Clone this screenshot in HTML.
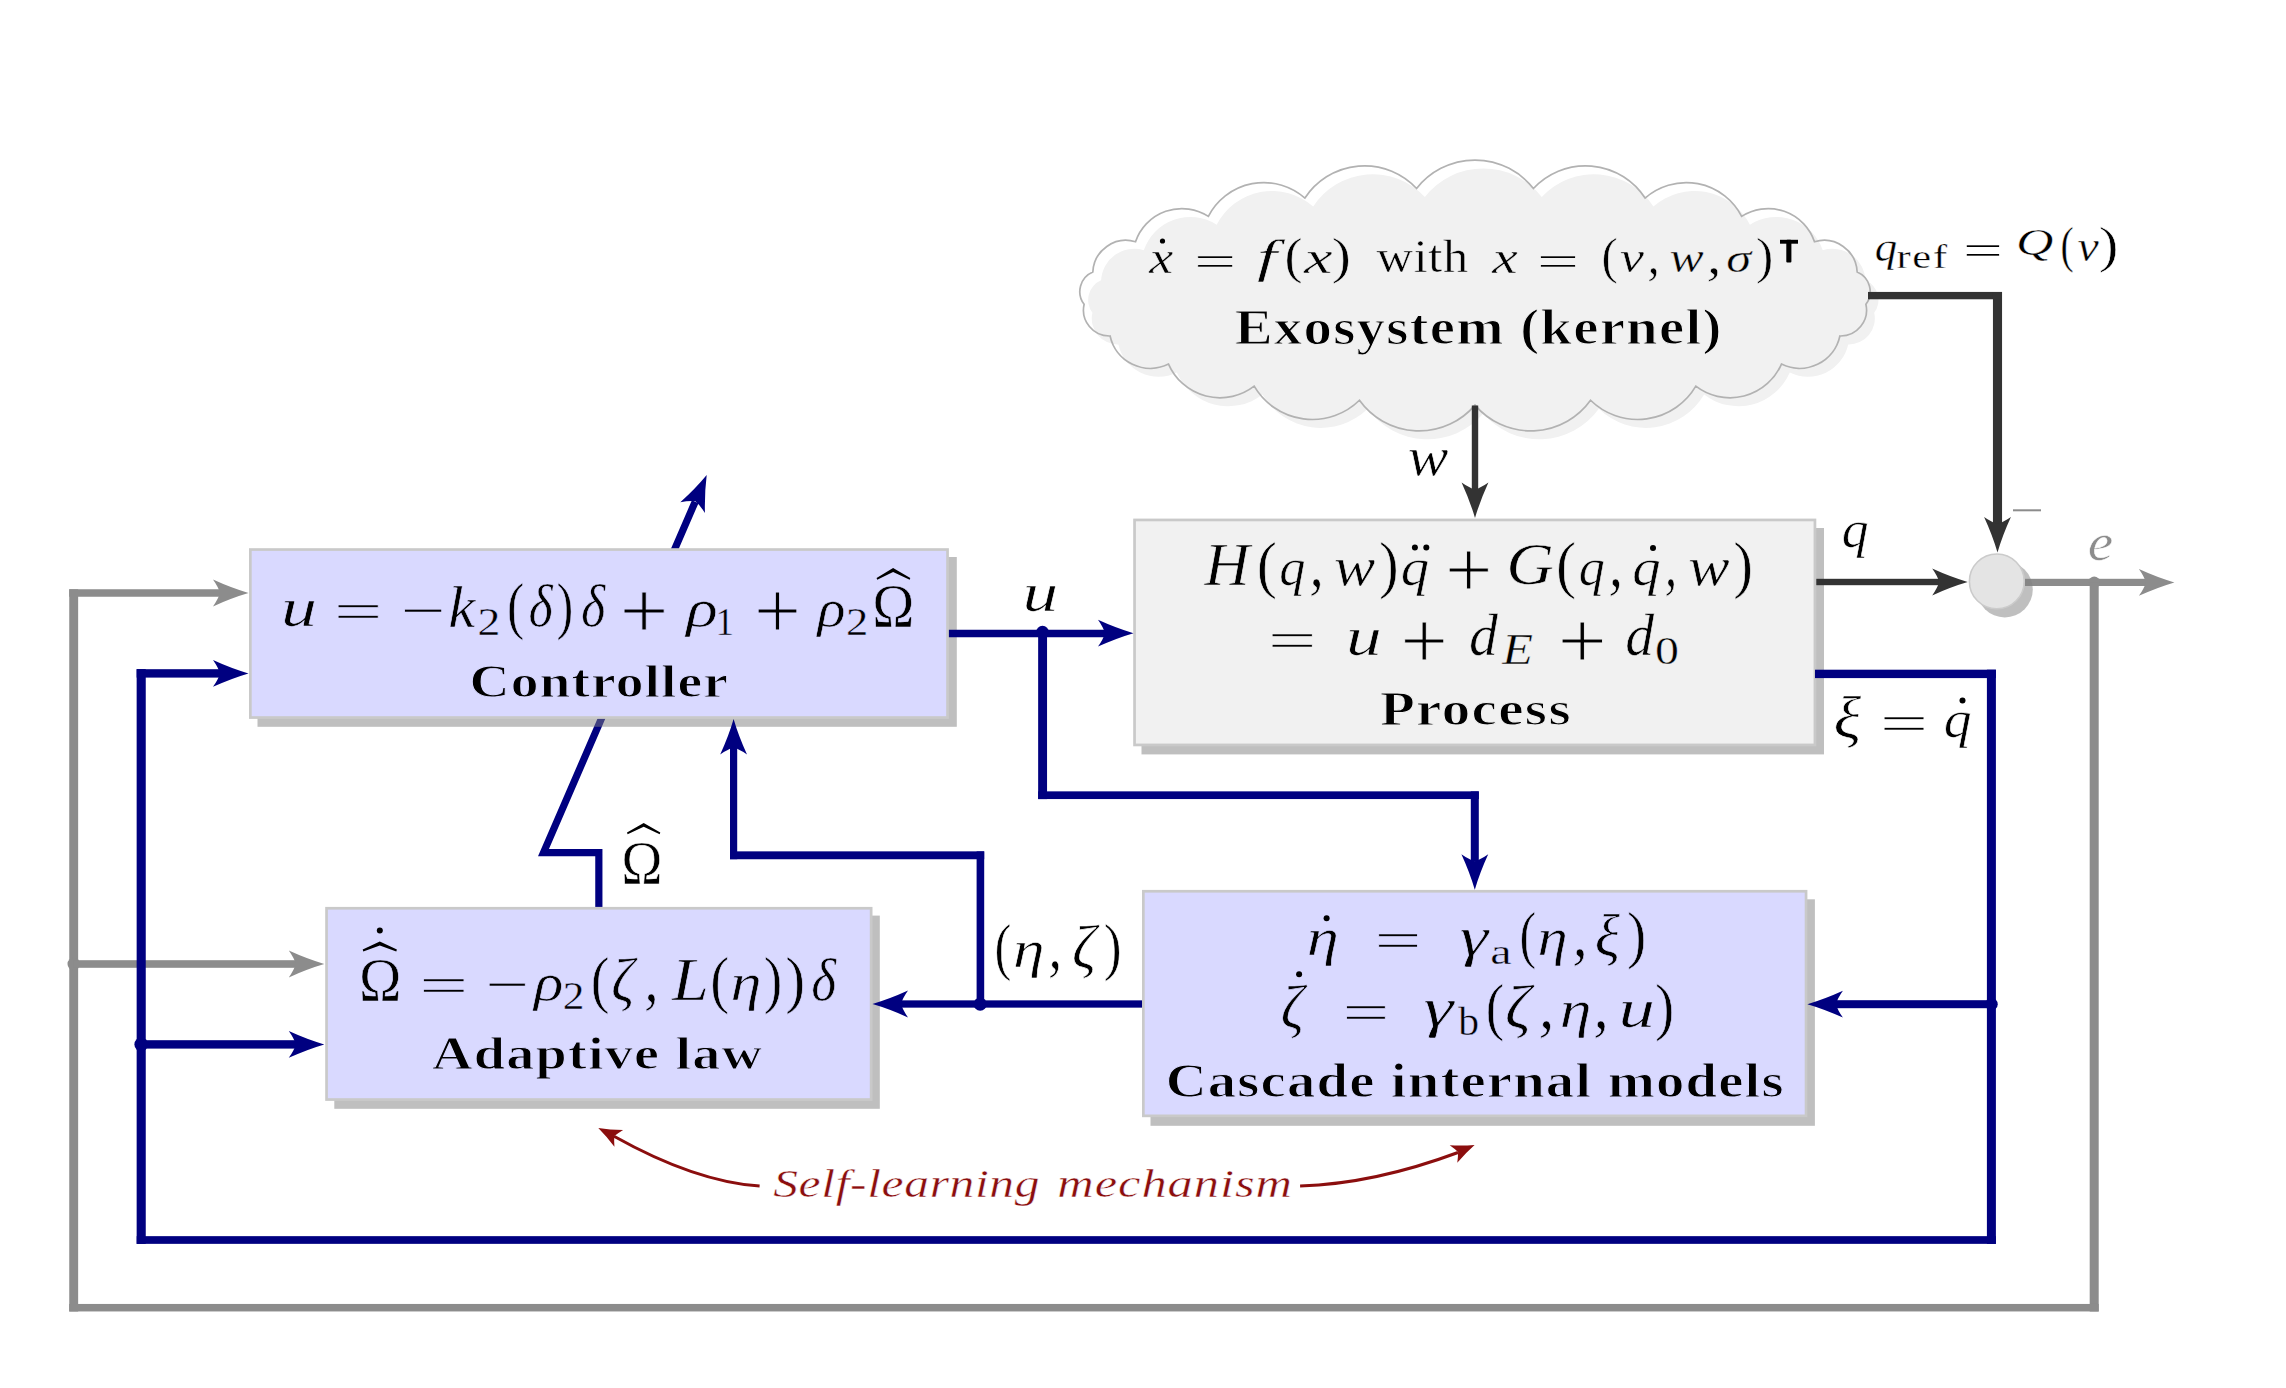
<!DOCTYPE html>
<html><head><meta charset="utf-8"><title>Control diagram</title><style>html,body{margin:0;padding:0;background:#fff;}svg{display:block;font-family:"Liberation Serif",serif;}</style></head><body>
<svg width="2286" height="1388" viewBox="0 0 2286 1388">
<rect width="2286" height="1388" fill="#ffffff"/>
<path d="M1483.3 413.5 A73.38 73.38 0 0 1 1367.76 408.66 A67.39 67.39 0 0 1 1262.48 394.58 A56.13 56.13 0 0 1 1176.82 372.5 A41.14 41.14 0 0 1 1118.4 344.39 A25.99 25.99 0 0 1 1092.4 312.74 A21.27 21.27 0 0 1 1101.13 280.37 A33.19 33.19 0 0 1 1143.82 250.15 A48.95 48.95 0 0 1 1216.67 224.77 A62.35 62.35 0 0 1 1313.22 206.48 A71.11 71.11 0 0 1 1424.88 196.92 A74.14 74.14 0 0 1 1541.72 196.92 A71.11 71.11 0 0 1 1653.38 206.48 A62.35 62.35 0 0 1 1749.93 224.77 A48.95 48.95 0 0 1 1822.78 250.15 A33.19 33.19 0 0 1 1865.47 280.37 A21.27 21.27 0 0 1 1874.2 312.74 A25.99 25.99 0 0 1 1848.2 344.39 A41.14 41.14 0 0 1 1789.78 372.5 A56.13 56.13 0 0 1 1704.12 394.58 A67.39 67.39 0 0 1 1598.84 408.66 A73.38 73.38 0 0 1 1483.3 413.5Z" fill="#f1f1f1"/>
<path d="M1475 405.1 A73.38 73.38 0 0 1 1359.46 400.26 A67.39 67.39 0 0 1 1254.18 386.18 A56.13 56.13 0 0 1 1168.52 364.1 A41.14 41.14 0 0 1 1110.1 335.99 A25.99 25.99 0 0 1 1084.1 304.34 A21.27 21.27 0 0 1 1092.83 271.97 A33.19 33.19 0 0 1 1135.52 241.75 A48.95 48.95 0 0 1 1208.37 216.37 A62.35 62.35 0 0 1 1304.92 198.08 A71.11 71.11 0 0 1 1416.58 188.52 A74.14 74.14 0 0 1 1533.42 188.52 A71.11 71.11 0 0 1 1645.08 198.08 A62.35 62.35 0 0 1 1741.63 216.37 A48.95 48.95 0 0 1 1814.48 241.75 A33.19 33.19 0 0 1 1857.17 271.97 A21.27 21.27 0 0 1 1865.9 304.34 A25.99 25.99 0 0 1 1839.9 335.99 A41.14 41.14 0 0 1 1781.48 364.1 A56.13 56.13 0 0 1 1695.82 386.18 A67.39 67.39 0 0 1 1590.54 400.26 A73.38 73.38 0 0 1 1475 405.1Z" fill="none" stroke="#b2b2b2" stroke-width="1.7"/>
<path d="M598.85 907.5 V852.6 H543.5 L695.19 501.72" fill="none" stroke="#000080" stroke-width="7.2" stroke-linejoin="miter" stroke-miterlimit="10"/>
<path transform="translate(706.7 475.1) rotate(-66.62)" d="M0 0 Q-17.04 -4.96 -35.5 -13.4 Q-30.3 -6.03 -28.5 0 Q-30.3 6.03 -35.5 13.4 Q-17.04 4.96 0 0Z" fill="#000080"/>
<rect x="257.5" y="557" width="699.3" height="169.8" fill="#7f7f7f" fill-opacity="0.5"/>
<rect x="1141.5" y="528" width="682.5" height="226.4" fill="#7f7f7f" fill-opacity="0.5"/>
<rect x="334.3" y="915.6" width="545.5" height="193.2" fill="#7f7f7f" fill-opacity="0.5"/>
<rect x="1150.5" y="899.3" width="664.4" height="226.5" fill="#7f7f7f" fill-opacity="0.5"/>
<rect x="250.35" y="549.55" width="697.2" height="168" fill="#d9d9ff" stroke="#c9c9c9" stroke-width="2.7"/>
<rect x="1134.55" y="519.95" width="680.4" height="225" fill="#f1f1f1" stroke="#c9c9c9" stroke-width="2.7"/>
<rect x="326.55" y="908.25" width="544.6" height="191.3" fill="#d9d9ff" stroke="#c9c9c9" stroke-width="2.7"/>
<rect x="1143.35" y="891.25" width="662.7" height="224.6" fill="#d9d9ff" stroke="#c9c9c9" stroke-width="2.7"/>
<rect x="2025" y="578.8" width="121.4" height="7.2" fill="#8c8c8c"/>
<path transform="translate(2174.4 582.4) rotate(0)" d="M0 0 Q-17.04 -4.96 -35.5 -13.4 Q-30.3 -6.03 -28.5 0 Q-30.3 6.03 -35.5 13.4 Q-17.04 4.96 0 0Z" fill="#8c8c8c"/>
<circle cx="2094.2" cy="582.4" r="5.8" fill="#8c8c8c"/>
<rect x="2089.7" y="582.4" width="9" height="729.1" fill="#8c8c8c"/>
<rect x="69.2" y="1303.95" width="2029.5" height="7.5" fill="#8c8c8c"/>
<rect x="69.25" y="589.3" width="8.9" height="722.2" fill="#8c8c8c"/>
<rect x="69.2" y="589.25" width="151.3" height="7.5" fill="#8c8c8c"/>
<path transform="translate(248.5 593) rotate(0)" d="M0 0 Q-17.04 -4.96 -35.5 -13.4 Q-30.3 -6.03 -28.5 0 Q-30.3 6.03 -35.5 13.4 Q-17.04 4.96 0 0Z" fill="#8c8c8c"/>
<circle cx="73.7" cy="964" r="6.2" fill="#8c8c8c"/>
<rect x="73.7" y="960.2" width="222.6" height="7.6" fill="#8c8c8c"/>
<path transform="translate(324.3 964) rotate(0)" d="M0 0 Q-17.04 -4.96 -35.5 -13.4 Q-30.3 -6.03 -28.5 0 Q-30.3 6.03 -35.5 13.4 Q-17.04 4.96 0 0Z" fill="#8c8c8c"/>
<rect x="948.9" y="629.75" width="156.3" height="7.5" fill="#000080"/>
<path transform="translate(1133.5 633.2) rotate(0)" d="M0 0 Q-17.04 -4.96 -35.5 -13.4 Q-30.3 -6.03 -28.5 0 Q-30.3 6.03 -35.5 13.4 Q-17.04 4.96 0 0Z" fill="#000080"/>
<circle cx="1042.5" cy="632.2" r="6.4" fill="#000080"/>
<rect x="1038.15" y="633" width="8.9" height="166.1" fill="#000080"/>
<rect x="1038.15" y="791.35" width="440.65" height="7.7" fill="#000080"/>
<rect x="1470.8" y="791.4" width="8" height="70.3" fill="#000080"/>
<path transform="translate(1474.8 889.7) rotate(90)" d="M0 0 Q-17.04 -4.96 -35.5 -13.4 Q-30.3 -6.03 -28.5 0 Q-30.3 6.03 -35.5 13.4 Q-17.04 4.96 0 0Z" fill="#000080"/>
<rect x="1815" y="669.7" width="180.9" height="8.4" fill="#000080"/>
<rect x="1986.9" y="669.7" width="9" height="574.2" fill="#000080"/>
<rect x="136.7" y="1236.15" width="1859.2" height="7.7" fill="#000080"/>
<rect x="136.65" y="669.1" width="9.1" height="574.8" fill="#000080"/>
<rect x="136.65" y="669.2" width="83.85" height="8.4" fill="#000080"/>
<path transform="translate(248.5 673.4) rotate(0)" d="M0 0 Q-17.04 -4.96 -35.5 -13.4 Q-30.3 -6.03 -28.5 0 Q-30.3 6.03 -35.5 13.4 Q-17.04 4.96 0 0Z" fill="#000080"/>
<circle cx="1991.5" cy="1004.2" r="6.2" fill="#000080"/>
<rect x="1835.4" y="1000.2" width="156.1" height="8" fill="#000080"/>
<path transform="translate(1807.4 1004.2) rotate(180)" d="M0 0 Q-17.04 -4.96 -35.5 -13.4 Q-30.3 -6.03 -28.5 0 Q-30.3 6.03 -35.5 13.4 Q-17.04 4.96 0 0Z" fill="#000080"/>
<circle cx="141.2" cy="1044.4" r="6.8" fill="#000080"/>
<rect x="141.2" y="1040.2" width="155.1" height="8.4" fill="#000080"/>
<path transform="translate(324.3 1044.4) rotate(0)" d="M0 0 Q-17.04 -4.96 -35.5 -13.4 Q-30.3 -6.03 -28.5 0 Q-30.3 6.03 -35.5 13.4 Q-17.04 4.96 0 0Z" fill="#000080"/>
<rect x="900.5" y="1000.35" width="241.5" height="7.3" fill="#000080"/>
<path transform="translate(872.5 1004) rotate(180)" d="M0 0 Q-17.04 -4.96 -35.5 -13.4 Q-30.3 -6.03 -28.5 0 Q-30.3 6.03 -35.5 13.4 Q-17.04 4.96 0 0Z" fill="#000080"/>
<circle cx="980.2" cy="1004.2" r="6.6" fill="#000080"/>
<rect x="976.6" y="851.4" width="7.6" height="152.6" fill="#000080"/>
<rect x="730" y="851.35" width="254.2" height="7.9" fill="#000080"/>
<rect x="730" y="747" width="7.2" height="112.2" fill="#000080"/>
<path transform="translate(733.6 719) rotate(-90)" d="M0 0 Q-17.04 -4.96 -35.5 -13.4 Q-30.3 -6.03 -28.5 0 Q-30.3 6.03 -35.5 13.4 Q-17.04 4.96 0 0Z" fill="#000080"/>
<rect x="1868" y="291.93" width="134" height="7.35" fill="#333333"/>
<rect x="1992.95" y="292" width="9.1" height="232.6" fill="#333333"/>
<path transform="translate(1997.5 552.6) rotate(90)" d="M0 0 Q-17.04 -4.96 -35.5 -13.4 Q-30.3 -6.03 -28.5 0 Q-30.3 6.03 -35.5 13.4 Q-17.04 4.96 0 0Z" fill="#333333"/>
<rect x="1471.8" y="405.5" width="6.4" height="84.5" fill="#333333"/>
<path transform="translate(1475 518) rotate(90)" d="M0 0 Q-17.04 -4.96 -35.5 -13.4 Q-30.3 -6.03 -28.5 0 Q-30.3 6.03 -35.5 13.4 Q-17.04 4.96 0 0Z" fill="#333333"/>
<rect x="1816.3" y="578.8" width="123.4" height="6.4" fill="#333333"/>
<path transform="translate(1967.7 582) rotate(0)" d="M0 0 Q-17.04 -4.96 -35.5 -13.4 Q-30.3 -6.03 -28.5 0 Q-30.3 6.03 -35.5 13.4 Q-17.04 4.96 0 0Z" fill="#333333"/>
<rect x="2013" y="509.3" width="28" height="2" fill="#8c8c8c"/>
<circle cx="2004.8" cy="589.4" r="28" fill="#7f7f7f" fill-opacity="0.5"/>
<circle cx="1996.8" cy="581.4" r="27.4" fill="#e4e4e4" stroke="#cbcbcb" stroke-width="1.6"/>
<path d="M759.6 1186.1 Q694.8 1181.5 614 1136.2" fill="none" stroke="#8b0e0e" stroke-width="3"/>
<path transform="translate(598.3 1127.9) rotate(-152.83)" d="M0 0 Q-11.04 -3.52 -23 -9.5 Q-19.8 -4.28 -18 0 Q-19.8 4.28 -23 9.5 Q-11.04 3.52 0 0Z" fill="#8b0e0e"/>
<path d="M1300.1 1186 Q1374 1183.8 1458 1152.5" fill="none" stroke="#8b0e0e" stroke-width="3"/>
<path transform="translate(1474.6 1144.9) rotate(-23.45)" d="M0 0 Q-11.04 -3.52 -23 -9.5 Q-19.8 -4.28 -18 0 Q-19.8 4.28 -23 9.5 Q-11.04 3.52 0 0Z" fill="#8b0e0e"/>
<text transform="matrix(1.2424 0 0 0.9468 281.02 625.84)" font-family='"Liberation Serif"' font-style="italic" font-weight="normal" font-size="58.0" fill="#000" stroke="#d9d9ff" stroke-width="0.60">u</text>
<text transform="matrix(1.4897 0 0 0.8957 333.75 629.25)" font-family='"Liberation Serif"' font-style="normal" font-weight="normal" font-size="58.0" fill="#000" stroke="#d9d9ff" stroke-width="0.60">=</text>
<text transform="matrix(1.3793 0 0 1.0000 400.55 630.38)" font-family='"Liberation Serif"' font-style="normal" font-weight="normal" font-size="58.0" fill="#000" stroke="#d9d9ff" stroke-width="0.60">−</text>
<text transform="matrix(1.0464 0 0 1.0323 448.15 626.70)" font-family='"Liberation Serif"' font-style="italic" font-weight="normal" font-size="58.0" fill="#000" stroke="#d9d9ff" stroke-width="0.60">k</text>
<text transform="matrix(1.1158 0 0 0.9765 477.57 635.25)" font-family='"Liberation Serif"' font-style="normal" font-weight="normal" font-size="41.0" fill="#000" stroke="#d9d9ff" stroke-width="0.42">2</text>
<text transform="matrix(0.8950 0 0 1.1034 506.88 626.85)" font-family='"Liberation Serif"' font-style="normal" font-weight="normal" font-size="58.0" fill="#000" stroke="#d9d9ff" stroke-width="0.60">(</text>
<text transform="matrix(0.8975 0 0 1.0099 528.59 625.78)" font-family='"Liberation Serif"' font-style="italic" font-weight="normal" font-size="58.0" fill="#000" stroke="#d9d9ff" stroke-width="0.60">δ</text>
<text transform="matrix(0.8698 0 0 1.1034 556.52 626.85)" font-family='"Liberation Serif"' font-style="normal" font-weight="normal" font-size="58.0" fill="#000" stroke="#d9d9ff" stroke-width="0.60">)</text>
<text transform="matrix(0.8975 0 0 1.0099 580.89 625.78)" font-family='"Liberation Serif"' font-style="italic" font-weight="normal" font-size="58.0" fill="#000" stroke="#d9d9ff" stroke-width="0.60">δ</text>
<text transform="matrix(1.4860 0 0 1.3846 619.66 638.33)" font-family='"Liberation Serif"' font-style="normal" font-weight="normal" font-size="58.0" fill="#000" stroke="#d9d9ff" stroke-width="0.60">+</text>
<text transform="matrix(1.1319 0 0 0.9220 686.35 626.00)" font-family='"Liberation Serif"' font-style="italic" font-weight="normal" font-size="58.0" fill="#000" stroke="#d9d9ff" stroke-width="0.60">ρ</text>
<text transform="matrix(0.9041 0 0 0.9765 715.60 635.25)" font-family='"Liberation Serif"' font-style="normal" font-weight="normal" font-size="41.0" fill="#000" stroke="#d9d9ff" stroke-width="0.42">1</text>
<text transform="matrix(1.4345 0 0 1.3846 754.00 638.33)" font-family='"Liberation Serif"' font-style="normal" font-weight="normal" font-size="58.0" fill="#000" stroke="#d9d9ff" stroke-width="0.60">+</text>
<text transform="matrix(1.0038 0 0 0.9220 817.42 626.00)" font-family='"Liberation Serif"' font-style="italic" font-weight="normal" font-size="58.0" fill="#000" stroke="#d9d9ff" stroke-width="0.60">ρ</text>
<text transform="matrix(1.0869 0 0 0.9765 846.11 635.25)" font-family='"Liberation Serif"' font-style="normal" font-weight="normal" font-size="41.0" fill="#000" stroke="#d9d9ff" stroke-width="0.42">2</text>
<text transform="matrix(0.9773 0 0 1.0393 872.24 626.30)" font-family='"Liberation Serif"' font-style="normal" font-weight="normal" font-size="58.0" fill="#000" stroke="#d9d9ff" stroke-width="0.60">Ω</text>
<text transform="matrix(1.1333 0 0 0.9427 469.50 697.28)" font-family='"Liberation Serif"' font-style="normal" font-weight="bold" font-size="49" fill="#000" stroke="#d9d9ff" stroke-width="1.01" letter-spacing="0.945">Controller</text>
<text transform="matrix(1.0796 0 0 1.0640 1204.58 585.00)" font-family='"Liberation Serif"' font-style="italic" font-weight="normal" font-size="58.0" fill="#000" stroke="#f1f1f1" stroke-width="0.60">H</text>
<text transform="matrix(1.0483 0 0 1.1034 1256.80 585.55)" font-family='"Liberation Serif"' font-style="normal" font-weight="normal" font-size="58.0" fill="#000" stroke="#f1f1f1" stroke-width="0.60">(</text>
<text transform="matrix(0.9018 0 0 0.9220 1279.37 584.70)" font-family='"Liberation Serif"' font-style="italic" font-weight="normal" font-size="58.0" fill="#000" stroke="#f1f1f1" stroke-width="0.60">q</text>
<text transform="matrix(1.0152 0 0 1.1489 1309.36 585.79)" font-family='"Liberation Serif"' font-style="italic" font-weight="normal" font-size="58.0" fill="#000" stroke="#f1f1f1" stroke-width="0.60">,</text>
<text transform="matrix(1.0667 0 0 0.9468 1333.93 584.54)" font-family='"Liberation Serif"' font-style="italic" font-weight="normal" font-size="58.0" fill="#000" stroke="#f1f1f1" stroke-width="0.60">w</text>
<text transform="matrix(1.0191 0 0 1.1034 1378.95 585.55)" font-family='"Liberation Serif"' font-style="normal" font-weight="normal" font-size="58.0" fill="#000" stroke="#f1f1f1" stroke-width="0.60">)</text>
<text transform="matrix(0.9779 0 0 0.9220 1400.83 584.70)" font-family='"Liberation Serif"' font-style="italic" font-weight="normal" font-size="58.0" fill="#000" stroke="#f1f1f1" stroke-width="0.60">q</text>
<text transform="matrix(1.4492 0 0 1.3846 1445.06 597.03)" font-family='"Liberation Serif"' font-style="normal" font-weight="normal" font-size="58.0" fill="#000" stroke="#f1f1f1" stroke-width="0.60">+</text>
<text transform="matrix(1.1376 0 0 1.0157 1506.31 584.08)" font-family='"Liberation Serif"' font-style="italic" font-weight="normal" font-size="58.0" fill="#000" stroke="#f1f1f1" stroke-width="0.60">G</text>
<text transform="matrix(1.0421 0 0 1.1034 1556.11 585.55)" font-family='"Liberation Serif"' font-style="normal" font-weight="normal" font-size="58.0" fill="#000" stroke="#f1f1f1" stroke-width="0.60">(</text>
<text transform="matrix(0.8980 0 0 0.9220 1578.67 584.70)" font-family='"Liberation Serif"' font-style="italic" font-weight="normal" font-size="58.0" fill="#000" stroke="#f1f1f1" stroke-width="0.60">q</text>
<text transform="matrix(1.0152 0 0 1.1489 1608.56 585.79)" font-family='"Liberation Serif"' font-style="italic" font-weight="normal" font-size="58.0" fill="#000" stroke="#f1f1f1" stroke-width="0.60">,</text>
<text transform="matrix(0.9779 0 0 0.9220 1632.33 584.70)" font-family='"Liberation Serif"' font-style="italic" font-weight="normal" font-size="58.0" fill="#000" stroke="#f1f1f1" stroke-width="0.60">q</text>
<text transform="matrix(0.8607 0 0 1.1489 1664.84 585.79)" font-family='"Liberation Serif"' font-style="italic" font-weight="normal" font-size="58.0" fill="#000" stroke="#f1f1f1" stroke-width="0.60">,</text>
<text transform="matrix(1.0693 0 0 0.9468 1688.23 584.54)" font-family='"Liberation Serif"' font-style="italic" font-weight="normal" font-size="58.0" fill="#000" stroke="#f1f1f1" stroke-width="0.60">w</text>
<text transform="matrix(1.0256 0 0 1.1034 1733.24 585.55)" font-family='"Liberation Serif"' font-style="normal" font-weight="normal" font-size="58.0" fill="#000" stroke="#f1f1f1" stroke-width="0.60">)</text>
<text transform="matrix(1.4933 0 0 0.8957 1267.84 658.45)" font-family='"Liberation Serif"' font-style="normal" font-weight="normal" font-size="58.0" fill="#000" stroke="#f1f1f1" stroke-width="0.60">=</text>
<text transform="matrix(1.2342 0 0 0.9468 1345.94 655.04)" font-family='"Liberation Serif"' font-style="italic" font-weight="normal" font-size="58.0" fill="#000" stroke="#f1f1f1" stroke-width="0.60">u</text>
<text transform="matrix(1.4492 0 0 1.3846 1400.46 667.53)" font-family='"Liberation Serif"' font-style="normal" font-weight="normal" font-size="58.0" fill="#000" stroke="#f1f1f1" stroke-width="0.60">+</text>
<text transform="matrix(0.9966 0 0 1.0099 1469.10 654.98)" font-family='"Liberation Serif"' font-style="italic" font-weight="normal" font-size="58.0" fill="#000" stroke="#f1f1f1" stroke-width="0.60">d</text>
<text transform="matrix(1.2293 0 0 1.0592 1502.29 664.45)" font-family='"Liberation Serif"' font-style="italic" font-weight="normal" font-size="41.0" fill="#000" stroke="#f1f1f1" stroke-width="0.42">E</text>
<text transform="matrix(1.4970 0 0 1.3846 1557.83 667.53)" font-family='"Liberation Serif"' font-style="normal" font-weight="normal" font-size="58.0" fill="#000" stroke="#f1f1f1" stroke-width="0.60">+</text>
<text transform="matrix(0.9966 0 0 1.0099 1625.30 654.98)" font-family='"Liberation Serif"' font-style="italic" font-weight="normal" font-size="58.0" fill="#000" stroke="#f1f1f1" stroke-width="0.60">d</text>
<text transform="matrix(1.1707 0 0 0.9543 1654.90 663.84)" font-family='"Liberation Serif"' font-style="normal" font-weight="normal" font-size="41.0" fill="#000" stroke="#f1f1f1" stroke-width="0.42">0</text>
<text transform="matrix(1.1618 0 0 1.0054 1379.91 725.03)" font-family='"Liberation Serif"' font-style="normal" font-weight="bold" font-size="49" fill="#000" stroke="#f1f1f1" stroke-width="1.01" letter-spacing="1.203">Process</text>
<text transform="matrix(0.9852 0 0 1.0393 358.92 1000.30)" font-family='"Liberation Serif"' font-style="normal" font-weight="normal" font-size="58.0" fill="#000" stroke="#d9d9ff" stroke-width="0.60">Ω</text>
<text transform="matrix(1.5080 0 0 0.8957 418.90 1003.25)" font-family='"Liberation Serif"' font-style="normal" font-weight="normal" font-size="58.0" fill="#000" stroke="#d9d9ff" stroke-width="0.60">=</text>
<text transform="matrix(1.3389 0 0 1.0000 485.36 1004.38)" font-family='"Liberation Serif"' font-style="normal" font-weight="normal" font-size="58.0" fill="#000" stroke="#d9d9ff" stroke-width="0.60">−</text>
<text transform="matrix(1.0536 0 0 0.9220 534.11 1000.00)" font-family='"Liberation Serif"' font-style="italic" font-weight="normal" font-size="58.0" fill="#000" stroke="#d9d9ff" stroke-width="0.60">ρ</text>
<text transform="matrix(1.0580 0 0 0.9765 562.64 1009.25)" font-family='"Liberation Serif"' font-style="normal" font-weight="normal" font-size="41.0" fill="#000" stroke="#d9d9ff" stroke-width="0.42">2</text>
<text transform="matrix(0.9747 0 0 1.1034 590.73 1000.85)" font-family='"Liberation Serif"' font-style="normal" font-weight="normal" font-size="58.0" fill="#000" stroke="#d9d9ff" stroke-width="0.60">(</text>
<text transform="matrix(0.9852 0 0 1.0463 611.21 1001.27)" font-family='"Liberation Serif"' font-style="italic" font-weight="normal" font-size="58.0" fill="#000" stroke="#d9d9ff" stroke-width="0.60">ζ</text>
<text transform="matrix(0.9931 0 0 1.1489 644.20 1001.09)" font-family='"Liberation Serif"' font-style="italic" font-weight="normal" font-size="58.0" fill="#000" stroke="#d9d9ff" stroke-width="0.60">,</text>
<text transform="matrix(1.1424 0 0 1.0640 672.04 1000.30)" font-family='"Liberation Serif"' font-style="italic" font-weight="normal" font-size="58.0" fill="#000" stroke="#d9d9ff" stroke-width="0.60">L</text>
<text transform="matrix(0.9747 0 0 1.1034 710.13 1000.85)" font-family='"Liberation Serif"' font-style="normal" font-weight="normal" font-size="58.0" fill="#000" stroke="#d9d9ff" stroke-width="0.60">(</text>
<text transform="matrix(1.0759 0 0 0.9220 730.45 1000.00)" font-family='"Liberation Serif"' font-style="italic" font-weight="normal" font-size="58.0" fill="#000" stroke="#d9d9ff" stroke-width="0.60">η</text>
<text transform="matrix(0.9606 0 0 1.1034 763.66 1000.85)" font-family='"Liberation Serif"' font-style="normal" font-weight="normal" font-size="58.0" fill="#000" stroke="#d9d9ff" stroke-width="0.60">)</text>
<text transform="matrix(1.0320 0 0 1.1034 785.13 1000.85)" font-family='"Liberation Serif"' font-style="normal" font-weight="normal" font-size="58.0" fill="#000" stroke="#d9d9ff" stroke-width="0.60">)</text>
<text transform="matrix(0.9195 0 0 1.0099 811.17 999.78)" font-family='"Liberation Serif"' font-style="italic" font-weight="normal" font-size="58.0" fill="#000" stroke="#d9d9ff" stroke-width="0.60">δ</text>
<text transform="matrix(1.1460 0 0 0.9276 432.10 1069.26)" font-family='"Liberation Serif"' font-style="normal" font-weight="bold" font-size="49" fill="#000" stroke="#d9d9ff" stroke-width="1.01" letter-spacing="1.066">Adaptive law</text>
<text transform="matrix(1.1153 0 0 0.9220 1306.78 955.20)" font-family='"Liberation Serif"' font-style="italic" font-weight="normal" font-size="58.0" fill="#000" stroke="#d9d9ff" stroke-width="0.60">η</text>
<text transform="matrix(1.4418 0 0 0.8957 1374.48 958.45)" font-family='"Liberation Serif"' font-style="normal" font-weight="normal" font-size="58.0" fill="#000" stroke="#d9d9ff" stroke-width="0.60">=</text>
<text transform="matrix(1.2435 0 0 0.9429 1459.87 954.94)" font-family='"Liberation Serif"' font-style="italic" font-weight="normal" font-size="58.0" fill="#000" stroke="#d9d9ff" stroke-width="0.60">γ</text>
<text transform="matrix(1.1767 0 0 0.8829 1490.19 963.88)" font-family='"Liberation Serif"' font-style="normal" font-weight="normal" font-size="41.0" fill="#000" stroke="#d9d9ff" stroke-width="0.42">a</text>
<text transform="matrix(0.8582 0 0 1.1034 1519.54 956.05)" font-family='"Liberation Serif"' font-style="normal" font-weight="normal" font-size="58.0" fill="#000" stroke="#d9d9ff" stroke-width="0.60">(</text>
<text transform="matrix(1.0483 0 0 0.9220 1537.40 955.20)" font-family='"Liberation Serif"' font-style="italic" font-weight="normal" font-size="58.0" fill="#000" stroke="#d9d9ff" stroke-width="0.60">η</text>
<text transform="matrix(1.0814 0 0 1.1489 1572.34 956.29)" font-family='"Liberation Serif"' font-style="italic" font-weight="normal" font-size="58.0" fill="#000" stroke="#d9d9ff" stroke-width="0.60">,</text>
<text transform="matrix(1.0101 0 0 1.0279 1594.87 955.72)" font-family='"Liberation Serif"' font-style="italic" font-weight="normal" font-size="58.0" fill="#000" stroke="#d9d9ff" stroke-width="0.60">ξ</text>
<text transform="matrix(0.9996 0 0 1.1034 1627.09 956.05)" font-family='"Liberation Serif"' font-style="normal" font-weight="normal" font-size="58.0" fill="#000" stroke="#d9d9ff" stroke-width="0.60">)</text>
<text transform="matrix(0.9931 0 0 1.0463 1280.80 1027.97)" font-family='"Liberation Serif"' font-style="italic" font-weight="normal" font-size="58.0" fill="#000" stroke="#d9d9ff" stroke-width="0.60">ζ</text>
<text transform="matrix(1.4418 0 0 0.8957 1342.28 1029.95)" font-family='"Liberation Serif"' font-style="normal" font-weight="normal" font-size="58.0" fill="#000" stroke="#d9d9ff" stroke-width="0.60">=</text>
<text transform="matrix(1.3072 0 0 0.9429 1423.42 1026.44)" font-family='"Liberation Serif"' font-style="italic" font-weight="normal" font-size="58.0" fill="#000" stroke="#d9d9ff" stroke-width="0.60">γ</text>
<text transform="matrix(1.0146 0 0 0.9841 1458.20 1035.32)" font-family='"Liberation Serif"' font-style="normal" font-weight="normal" font-size="41.0" fill="#000" stroke="#d9d9ff" stroke-width="0.42">b</text>
<text transform="matrix(0.9502 0 0 1.1034 1485.78 1027.55)" font-family='"Liberation Serif"' font-style="normal" font-weight="normal" font-size="58.0" fill="#000" stroke="#d9d9ff" stroke-width="0.60">(</text>
<text transform="matrix(1.1034 0 0 1.0463 1505.10 1027.97)" font-family='"Liberation Serif"' font-style="italic" font-weight="normal" font-size="58.0" fill="#000" stroke="#d9d9ff" stroke-width="0.60">ζ</text>
<text transform="matrix(1.0814 0 0 1.1489 1538.74 1027.79)" font-family='"Liberation Serif"' font-style="italic" font-weight="normal" font-size="58.0" fill="#000" stroke="#d9d9ff" stroke-width="0.60">,</text>
<text transform="matrix(1.1034 0 0 0.9220 1559.70 1026.70)" font-family='"Liberation Serif"' font-style="italic" font-weight="normal" font-size="58.0" fill="#000" stroke="#d9d9ff" stroke-width="0.60">η</text>
<text transform="matrix(1.0814 0 0 1.1489 1593.34 1027.79)" font-family='"Liberation Serif"' font-style="italic" font-weight="normal" font-size="58.0" fill="#000" stroke="#d9d9ff" stroke-width="0.60">,</text>
<text transform="matrix(1.2587 0 0 0.9468 1618.48 1026.54)" font-family='"Liberation Serif"' font-style="italic" font-weight="normal" font-size="58.0" fill="#000" stroke="#d9d9ff" stroke-width="0.60">u</text>
<text transform="matrix(0.9996 0 0 1.1034 1655.09 1027.55)" font-family='"Liberation Serif"' font-style="normal" font-weight="normal" font-size="58.0" fill="#000" stroke="#d9d9ff" stroke-width="0.60">)</text>
<text transform="matrix(1.1559 0 0 0.9881 1165.75 1096.54)" font-family='"Liberation Serif"' font-style="normal" font-weight="bold" font-size="49" fill="#000" stroke="#d9d9ff" stroke-width="1.01" letter-spacing="1.040">Cascade internal models</text>
<text transform="matrix(1.1579 0 0 0.9784 1149.24 272.78)" font-family='"Liberation Serif"' font-style="italic" font-weight="normal" font-size="46.69491525423729" fill="#000" stroke="#f1f1f1" stroke-width="0.48">x</text>
<text transform="matrix(1.6082 0 0 0.8958 1193.88 274.84)" font-family='"Liberation Serif"' font-style="normal" font-weight="normal" font-size="46.69491525423729" fill="#000" stroke="#f1f1f1" stroke-width="0.48">=</text>
<text transform="matrix(1.5393 0 0 0.9766 1257.00 271.66)" font-family='"Liberation Serif"' font-style="italic" font-weight="normal" font-size="46.69491525423729" fill="#000" stroke="#f1f1f1" stroke-width="0.48">f</text>
<text transform="matrix(1.1650 0 0 1.1035 1284.50 272.90)" font-family='"Liberation Serif"' font-style="normal" font-weight="normal" font-size="46.69491525423729" fill="#000" stroke="#f1f1f1" stroke-width="0.48">(</text>
<text transform="matrix(1.3754 0 0 0.9784 1304.00 272.78)" font-family='"Liberation Serif"' font-style="italic" font-weight="normal" font-size="46.69491525423729" fill="#000" stroke="#f1f1f1" stroke-width="0.48">x</text>
<text transform="matrix(1.2336 0 0 1.1035 1331.80 272.90)" font-family='"Liberation Serif"' font-style="normal" font-weight="normal" font-size="46.69491525423729" fill="#000" stroke="#f1f1f1" stroke-width="0.48">)</text>
<text transform="matrix(1.0740 0 0 1.0035 1376.50 272.06)" font-family='"Liberation Serif"' font-style="normal" font-weight="normal" font-size="47" fill="#000" stroke="#f1f1f1" stroke-width="0.49" letter-spacing="0.640">with</text>
<text transform="matrix(1.2288 0 0 0.9784 1492.20 272.78)" font-family='"Liberation Serif"' font-style="italic" font-weight="normal" font-size="46.69491525423729" fill="#000" stroke="#f1f1f1" stroke-width="0.48">x</text>
<text transform="matrix(1.6082 0 0 0.8958 1536.78 274.84)" font-family='"Liberation Serif"' font-style="normal" font-weight="normal" font-size="46.69491525423729" fill="#000" stroke="#f1f1f1" stroke-width="0.48">=</text>
<text transform="matrix(1.0432 0 0 1.1035 1601.58 272.90)" font-family='"Liberation Serif"' font-style="normal" font-weight="normal" font-size="46.69491525423729" fill="#000" stroke="#f1f1f1" stroke-width="0.48">(</text>
<text transform="matrix(1.1579 0 0 0.9468 1619.90 272.09)" font-family='"Liberation Serif"' font-style="italic" font-weight="normal" font-size="46.69491525423729" fill="#000" stroke="#f1f1f1" stroke-width="0.48">v</text>
<text transform="matrix(1.0417 0 0 1.1489 1647.48 273.10)" font-family='"Liberation Serif"' font-style="italic" font-weight="normal" font-size="46.69491525423729" fill="#000" stroke="#f1f1f1" stroke-width="0.48">,</text>
<text transform="matrix(1.0998 0 0 0.9468 1669.60 272.09)" font-family='"Liberation Serif"' font-style="italic" font-weight="normal" font-size="46.69491525423729" fill="#000" stroke="#f1f1f1" stroke-width="0.48">w</text>
<text transform="matrix(1.2610 0 0 1.1489 1706.86 273.10)" font-family='"Liberation Serif"' font-style="italic" font-weight="normal" font-size="46.69491525423729" fill="#000" stroke="#f1f1f1" stroke-width="0.48">,</text>
<text transform="matrix(1.0840 0 0 0.8633 1726.21 272.15)" font-family='"Liberation Serif"' font-style="italic" font-weight="normal" font-size="46.69491525423729" fill="#000" stroke="#f1f1f1" stroke-width="0.48">σ</text>
<text transform="matrix(1.1126 0 0 1.1035 1756.08 272.90)" font-family='"Liberation Serif"' font-style="normal" font-weight="normal" font-size="46.69491525423729" fill="#000" stroke="#f1f1f1" stroke-width="0.48">)</text>
<text transform="matrix(1.1596 0 0 1.0228 1234.71 343.74)" font-family='"Liberation Serif"' font-style="normal" font-weight="bold" font-size="49" fill="#000" stroke="#f1f1f1" stroke-width="1.01" letter-spacing="1.077">Exosystem (kernel)</text>
<text transform="matrix(0.9594 0 0 0.9220 1874.70 260.92)" font-family='"Liberation Serif"' font-style="italic" font-weight="normal" font-size="46.69491525423729" fill="#000" stroke="#fff" stroke-width="0.48">q</text>
<text transform="matrix(1.2887 0 0 1.0068 1896.44 267.88)" font-family='"Liberation Serif"' font-style="normal" font-weight="normal" font-size="33" fill="#000" stroke="#fff" stroke-width="0.34" letter-spacing="1.361">ref</text>
<text transform="matrix(1.5260 0 0 0.8958 1962.66 263.54)" font-family='"Liberation Serif"' font-style="normal" font-weight="normal" font-size="46.69491525423729" fill="#000" stroke="#fff" stroke-width="0.48">=</text>
<text transform="matrix(1.1093 0 0 0.8276 2016.07 254.52)" font-family='"Liberation Serif"' font-style="italic" font-weight="normal" font-size="46.69491525423729" fill="#000" stroke="#fff" stroke-width="0.48">Q</text>
<text transform="matrix(0.8528 0 0 1.1035 2060.56 261.60)" font-family='"Liberation Serif"' font-style="normal" font-weight="normal" font-size="46.69491525423729" fill="#000" stroke="#fff" stroke-width="0.48">(</text>
<text transform="matrix(1.0256 0 0 0.9468 2077.50 260.79)" font-family='"Liberation Serif"' font-style="italic" font-weight="normal" font-size="46.69491525423729" fill="#000" stroke="#fff" stroke-width="0.48">v</text>
<text transform="matrix(1.2658 0 0 1.1035 2098.65 261.60)" font-family='"Liberation Serif"' font-style="normal" font-weight="normal" font-size="46.69491525423729" fill="#000" stroke="#fff" stroke-width="0.48">)</text>
<text transform="matrix(1.2301 0 0 0.9468 1022.46 610.54)" font-family='"Liberation Serif"' font-style="italic" font-weight="normal" font-size="58.0" fill="#000" stroke="#fff" stroke-width="0.60">u</text>
<text transform="matrix(0.9246 0 0 0.9220 1841.82 547.10)" font-family='"Liberation Serif"' font-style="italic" font-weight="normal" font-size="58.0" fill="#000" stroke="#fff" stroke-width="0.60">q</text>
<text transform="matrix(0.9889 0 0 0.9172 2087.70 559.97)" font-family='"Liberation Serif"' font-style="italic" font-weight="normal" font-size="58.0" fill="#8c8c8c" stroke="#fff" stroke-width="0.60">e</text>
<text transform="matrix(1.0509 0 0 0.9468 1407.65 475.14)" font-family='"Liberation Serif"' font-style="italic" font-weight="normal" font-size="58.0" fill="#000" stroke="#fff" stroke-width="0.60">w</text>
<text transform="matrix(1.1119 0 0 1.0279 1833.48 737.92)" font-family='"Liberation Serif"' font-style="italic" font-weight="normal" font-size="58.0" fill="#000" stroke="#fff" stroke-width="0.60">ξ</text>
<text transform="matrix(1.4823 0 0 0.8957 1879.87 740.65)" font-family='"Liberation Serif"' font-style="normal" font-weight="normal" font-size="58.0" fill="#000" stroke="#fff" stroke-width="0.60">=</text>
<text transform="matrix(0.9589 0 0 0.9220 1943.66 737.40)" font-family='"Liberation Serif"' font-style="italic" font-weight="normal" font-size="58.0" fill="#000" stroke="#fff" stroke-width="0.60">q</text>
<text transform="matrix(0.9589 0 0 1.0393 621.19 882.50)" font-family='"Liberation Serif"' font-style="normal" font-weight="normal" font-size="58.0" fill="#000" stroke="#fff" stroke-width="0.60">Ω</text>
<text transform="matrix(0.8766 0 0 1.1034 994.51 967.55)" font-family='"Liberation Serif"' font-style="normal" font-weight="normal" font-size="58.0" fill="#000" stroke="#fff" stroke-width="0.60">(</text>
<text transform="matrix(1.0956 0 0 0.9220 1013.11 966.70)" font-family='"Liberation Serif"' font-style="italic" font-weight="normal" font-size="58.0" fill="#000" stroke="#fff" stroke-width="0.60">η</text>
<text transform="matrix(0.9600 0 0 1.1489 1048.26 967.79)" font-family='"Liberation Serif"' font-style="italic" font-weight="normal" font-size="58.0" fill="#000" stroke="#fff" stroke-width="0.60">,</text>
<text transform="matrix(1.0325 0 0 1.0463 1071.93 967.97)" font-family='"Liberation Serif"' font-style="italic" font-weight="normal" font-size="58.0" fill="#000" stroke="#fff" stroke-width="0.60">ζ</text>
<text transform="matrix(0.9282 0 0 1.1034 1103.82 967.55)" font-family='"Liberation Serif"' font-style="normal" font-weight="normal" font-size="58.0" fill="#000" stroke="#fff" stroke-width="0.60">)</text>
<text transform="matrix(1.1004 0 0 0.9121 773.20 1196.50)" font-family='"Liberation Serif"' font-style="italic" font-weight="normal" font-size="45" fill="#8b0e0e" stroke="#fff" stroke-width="0.47" letter-spacing="0.594">Self-learning</text>
<text transform="matrix(1.1200 0 0 0.9007 1057.33 1196.50)" font-family='"Liberation Serif"' font-style="italic" font-weight="normal" font-size="45" fill="#8b0e0e" stroke="#fff" stroke-width="0.47" letter-spacing="0.890">mechanism</text>
<rect x="1780" y="239.8" width="18" height="3.9" fill="#000"/>
<rect x="1786.3" y="239.8" width="5.1" height="22.6" rx="1" fill="#000"/>
<path d="M876.6 578 L893.1 568.1 L910.3 578 L909.7 579.8 L893.1 571.9 L877.2 579.8Z" fill="#000"/>
<path d="M362.7 949.6 L379.8 941.6 L396.9 949.6 L396.3 951.4 L379.8 945.4 L363.3 951.4Z" fill="#000"/>
<circle cx="379.8" cy="930.6" r="3" fill="#000"/>
<path d="M627 832.4 L643.7 822.9 L660.3 832.4 L659.7 834.2 L643.7 826.7 L627.6 834.2Z" fill="#000"/>
<circle cx="1414.9" cy="547.6" r="3" fill="#000"/>
<circle cx="1426.3" cy="547.6" r="3" fill="#000"/>
<circle cx="1653" cy="547.9" r="3" fill="#000"/>
<circle cx="1326.6" cy="918.2" r="3" fill="#000"/>
<circle cx="1299.1" cy="974.2" r="3" fill="#000"/>
<circle cx="1162.5" cy="241" r="2.6" fill="#000"/>
<circle cx="1962.5" cy="700.5" r="3" fill="#000"/>
</svg>
</body></html>
